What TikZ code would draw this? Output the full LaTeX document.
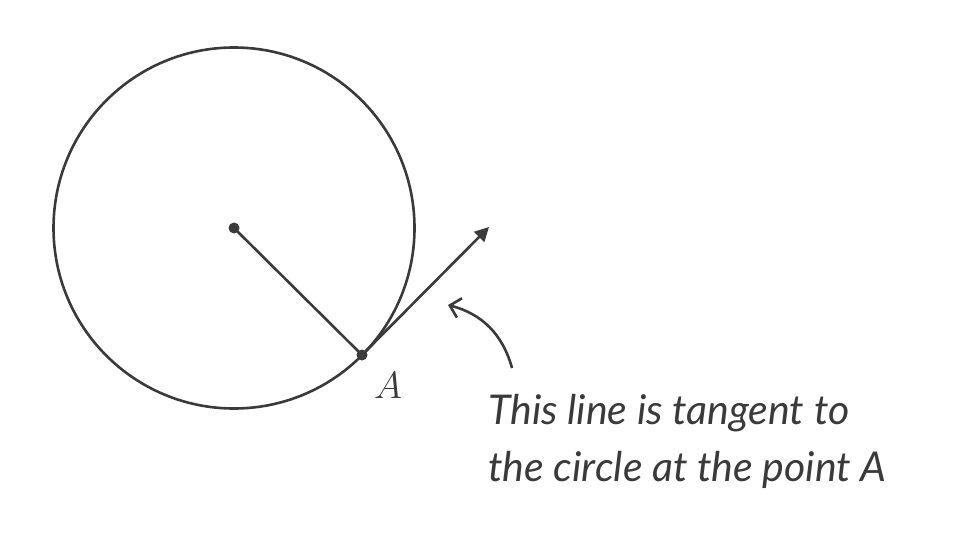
\RequirePackage{fix-cm}
\documentclass[tikz,border=0pt]{standalone}
\usepackage{fontspec}
\setmainfont{Lato}
\usetikzlibrary{arrows.meta,positioning}
\definecolor{ink}{HTML}{3A3A3A}

\begin{document}
\begin{tikzpicture}[x=1pt,y=-1pt,line width=2.6pt,color=ink,
    dot/.style={circle,fill=ink,inner sep=0pt,minimum size=11pt}]
      \useasboundingbox (0,0) rectangle (960,540);
      \node[dot] (O) at (234,228) {};
      \node[dot] (A) at (362,355) {};
      \draw (O.center) circle[radius=180.5];
      \draw (O.center) -- (A.center);

      % tangent line at A
      \coordinate (T) at (489,227);
      \draw[-{Triangle[length=14pt,width=14pt]}] (A.center) -- (T);
      \node[font=\fontsize{38}{46}\selectfont] (Alabel) at (388,386) {$A$};

      % note and its arrow
      \node[anchor=north west,align=left,inner sep=0pt,
        font=\itshape\fontsize{41}{57}\selectfont] (note) at (487,393)
        {This line is tangent to\\the circle at the point A};
      \coordinate (tail) at (512,368);
      \coordinate (head) at (448,305);
      \draw[-{Straight Barb[length=10pt,width=20pt]}] (tail) to[bend right=30] (head);
    \end{tikzpicture}
\end{document}
